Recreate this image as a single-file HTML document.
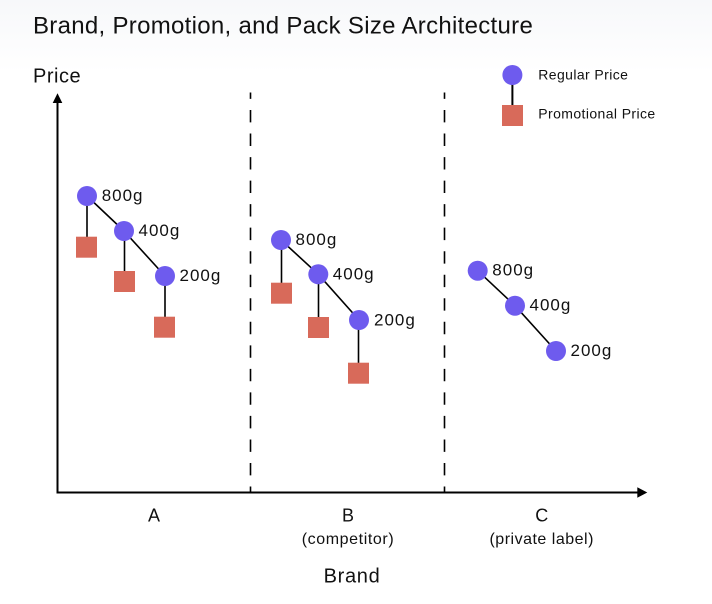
<!DOCTYPE html>
<html>
<head>
<meta charset="utf-8">
<style>
html,body{margin:0;padding:0;background:#fff;}
svg{display:block;}
text{font-family:"Liberation Sans",sans-serif;fill:#111;}
</style>
</head>
<body>
<svg width="712" height="604" viewBox="0 0 712 604" xmlns="http://www.w3.org/2000/svg">
<defs>
<linearGradient id="bg" x1="0" y1="0" x2="0" y2="1">
<stop offset="0" stop-color="#f7f8fa"/>
<stop offset="0.12" stop-color="#ffffff"/>
<stop offset="1" stop-color="#ffffff"/>
</linearGradient>
</defs>
<rect width="712" height="604" fill="url(#bg)"/>

<text x="33" y="33.5" font-size="24" letter-spacing="0.3">Brand, Promotion, and Pack Size Architecture</text>
<text x="33" y="82.3" font-size="20" letter-spacing="0.5">Price</text>

<!-- axes -->
<line x1="57.5" y1="102" x2="57.5" y2="492.5" stroke="#000" stroke-width="2"/>
<polygon points="57.5,93.3 52.7,103 62.3,103" fill="#000"/>
<line x1="56.5" y1="492.5" x2="639" y2="492.5" stroke="#000" stroke-width="2"/>
<polygon points="647.3,492.5 637.3,487.3 637.3,497.7" fill="#000"/>

<!-- dashed separators -->
<line x1="250.5" y1="92.5" x2="250.5" y2="492" stroke="#000" stroke-width="1.6" stroke-dasharray="12.4 11.13" stroke-dashoffset="6"/>
<line x1="444.5" y1="92.5" x2="444.5" y2="492" stroke="#000" stroke-width="1.6" stroke-dasharray="12.4 11.13" stroke-dashoffset="6"/>

<!-- Legend -->
<line x1="512.4" y1="75" x2="512.4" y2="112" stroke="#000" stroke-width="2"/>
<circle cx="512.4" cy="75" r="10" fill="#6E5BEE"/>
<rect x="502" y="105" width="21" height="21" fill="#D86A5A"/>
<text x="538.3" y="79.3" font-size="14" letter-spacing="0.4">Regular Price</text>
<text x="538.3" y="118.3" font-size="14" letter-spacing="0.4">Promotional Price</text>

<!-- Brand A -->
<g stroke="#000" stroke-width="1.6">
<line x1="87" y1="196" x2="124" y2="231"/>
<line x1="124" y1="231" x2="165" y2="276"/>
<line x1="87" y1="196" x2="87" y2="247"/>
<line x1="124.5" y1="231" x2="124.5" y2="282"/>
<line x1="165" y1="276" x2="165" y2="327"/>
</g>
<rect x="76" y="236.7" width="21" height="21" fill="#D86A5A"/>
<rect x="114" y="271" width="21" height="21" fill="#D86A5A"/>
<rect x="154" y="316.7" width="21" height="21" fill="#D86A5A"/>
<circle cx="87" cy="196" r="10" fill="#6E5BEE"/>
<circle cx="124" cy="231" r="10" fill="#6E5BEE"/>
<circle cx="165" cy="276" r="10" fill="#6E5BEE"/>
<text x="101.7" y="201" font-size="17" letter-spacing="1">800g</text>
<text x="138.5" y="236" font-size="17" letter-spacing="1">400g</text>
<text x="179.5" y="281" font-size="17" letter-spacing="1">200g</text>

<!-- Brand B -->
<g stroke="#000" stroke-width="1.6">
<line x1="281" y1="240" x2="318.3" y2="274.3"/>
<line x1="318.3" y1="274.3" x2="359" y2="320"/>
<line x1="281.5" y1="240" x2="281.5" y2="293"/>
<line x1="318.5" y1="274.3" x2="318.5" y2="327"/>
<line x1="358.5" y1="320" x2="358.5" y2="373"/>
</g>
<rect x="271" y="282.7" width="21" height="21" fill="#D86A5A"/>
<rect x="308" y="317" width="21" height="21" fill="#D86A5A"/>
<rect x="348" y="362.7" width="21" height="21" fill="#D86A5A"/>
<circle cx="281" cy="240" r="10" fill="#6E5BEE"/>
<circle cx="318.3" cy="274.3" r="10" fill="#6E5BEE"/>
<circle cx="359" cy="320" r="10" fill="#6E5BEE"/>
<text x="295.5" y="245" font-size="17" letter-spacing="1">800g</text>
<text x="332.8" y="279.3" font-size="17" letter-spacing="1">400g</text>
<text x="374" y="325.5" font-size="17" letter-spacing="1">200g</text>

<!-- Brand C -->
<g stroke="#000" stroke-width="1.6">
<line x1="477.7" y1="270.7" x2="515" y2="305.7"/>
<line x1="515" y1="305.7" x2="556" y2="351"/>
</g>
<circle cx="477.7" cy="270.7" r="10" fill="#6E5BEE"/>
<circle cx="515" cy="305.7" r="10" fill="#6E5BEE"/>
<circle cx="556" cy="351" r="10" fill="#6E5BEE"/>
<text x="492.3" y="275.7" font-size="17" letter-spacing="1">800g</text>
<text x="529.5" y="310.7" font-size="17" letter-spacing="1">400g</text>
<text x="570.5" y="356" font-size="17" letter-spacing="1">200g</text>

<!-- x labels -->
<text x="154" y="521.7" font-size="18" text-anchor="middle">A</text>
<text x="348" y="521.7" font-size="18" text-anchor="middle">B</text>
<text x="541.7" y="521.7" font-size="18" text-anchor="middle">C</text>
<text x="348" y="544" font-size="16" letter-spacing="0.6" text-anchor="middle">(competitor)</text>
<text x="541.7" y="544" font-size="16" letter-spacing="0.5" text-anchor="middle">(private label)</text>
<text x="352" y="582.3" font-size="20" letter-spacing="0.7" text-anchor="middle">Brand</text>
</svg>
</body>
</html>
